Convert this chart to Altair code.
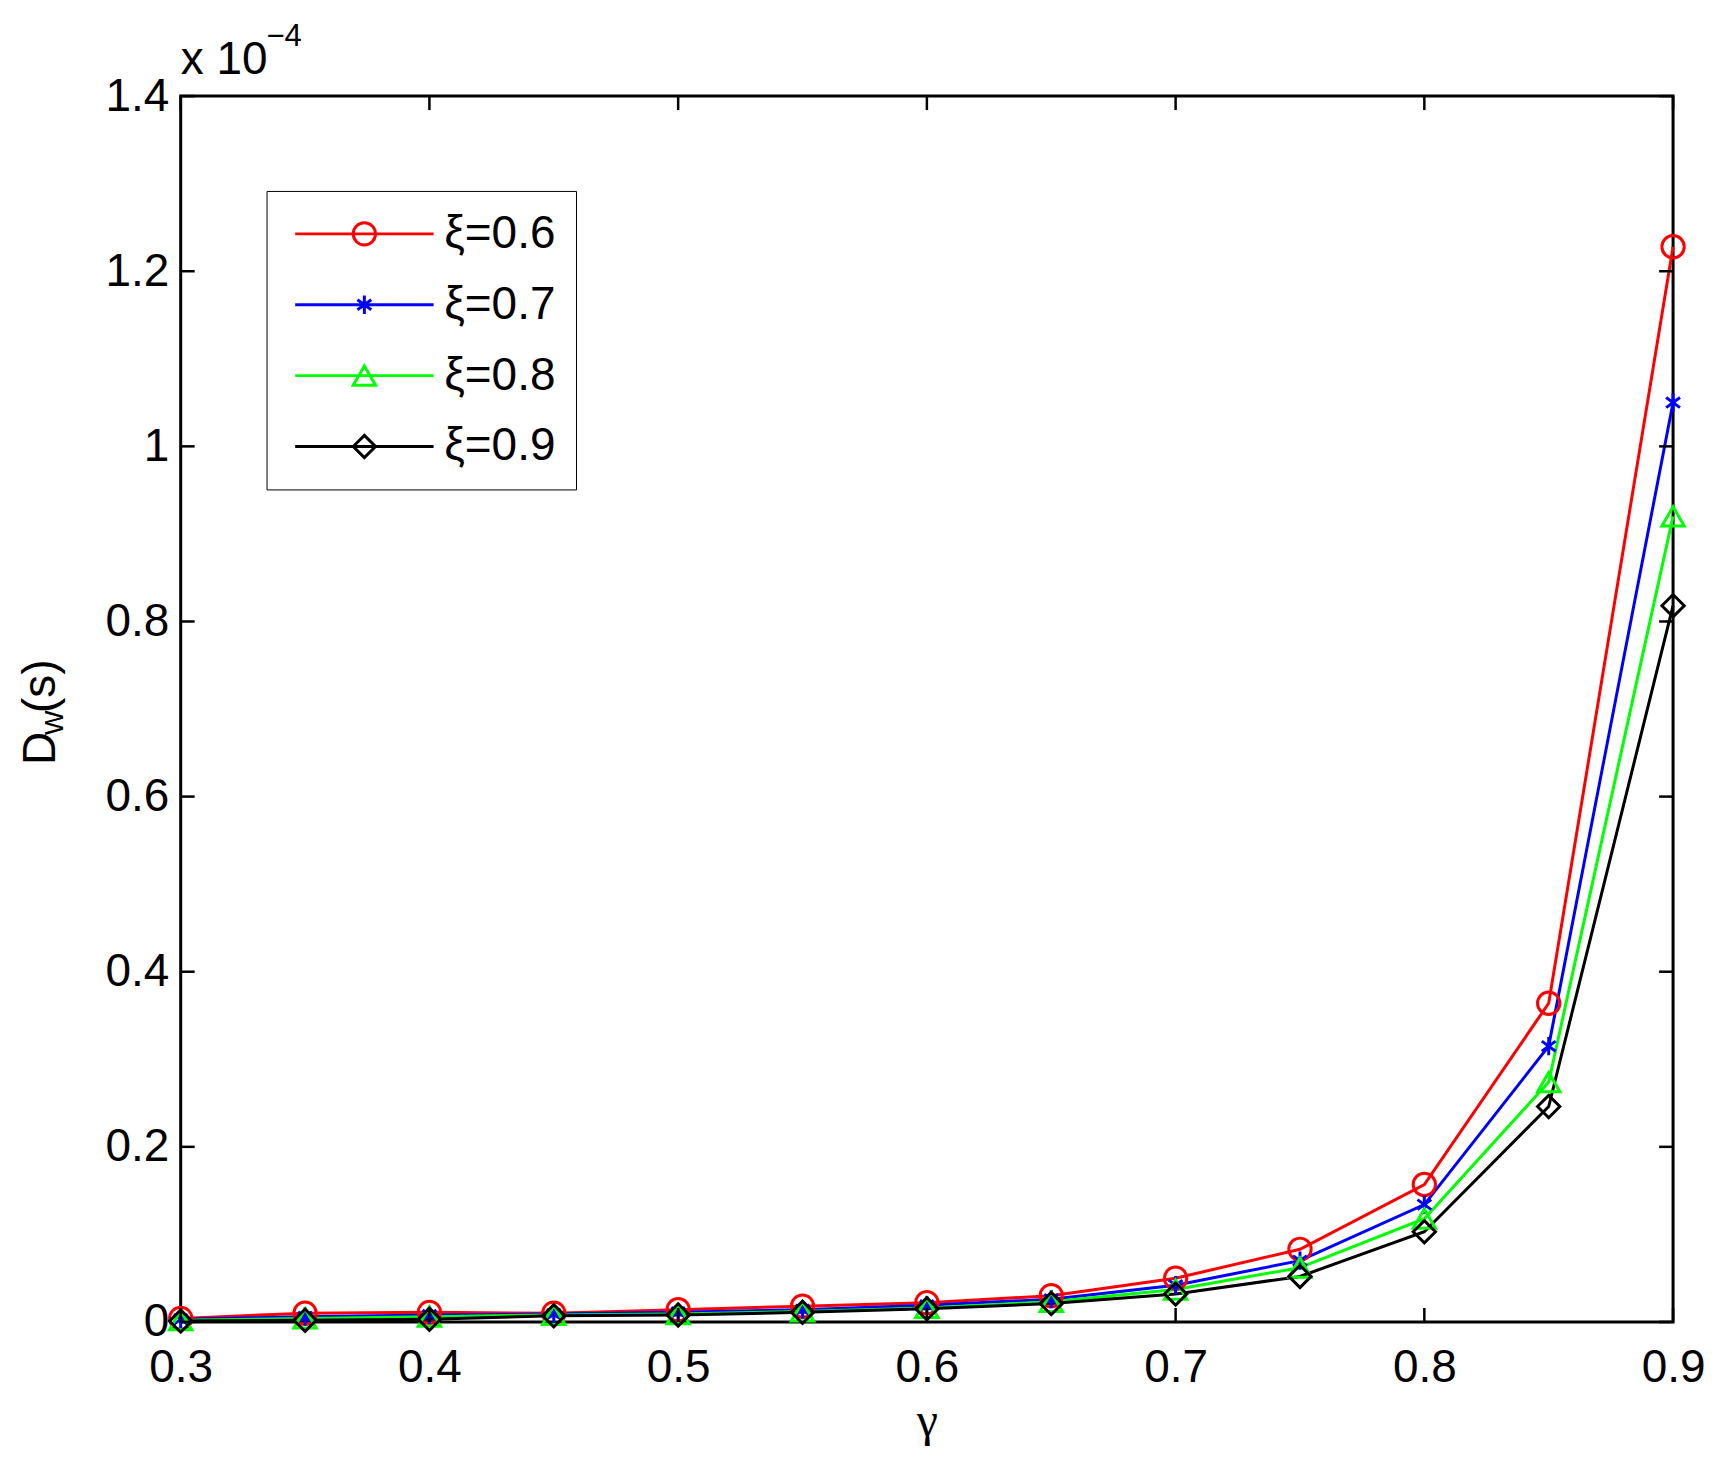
import altair as alt
import pandas as pd

# ---- data (values in units of 1e-4) ----
gamma = [0.30, 0.35, 0.40, 0.45, 0.50, 0.55, 0.60, 0.65, 0.70, 0.75, 0.80, 0.85, 0.90]
series_names = ["ξ=0.6", "ξ=0.7", "ξ=0.8", "ξ=0.9"]
d_xi06 = [0.004, 0.010, 0.011, 0.010, 0.014, 0.018, 0.022, 0.030, 0.050, 0.083, 0.157, 0.364, 1.228]
d_xi07 = [0.003, 0.006, 0.008, 0.009, 0.011, 0.014, 0.019, 0.026, 0.042, 0.070, 0.134, 0.315, 1.050]
d_xi08 = [0.002, 0.004, 0.006, 0.008, 0.009, 0.012, 0.016, 0.023, 0.037, 0.062, 0.118, 0.274, 0.920]
d_xi09 = [0.001, 0.002, 0.003, 0.007, 0.008, 0.011, 0.015, 0.021, 0.032, 0.052, 0.103, 0.246, 0.818]
x_ticks = [0.3, 0.4, 0.5, 0.6, 0.7, 0.8, 0.9]
y_ticks = [0.0, 0.2, 0.4, 0.6, 0.8, 1.0, 1.2, 1.4]
y_title_parts = ["D", "W", "(s)"]
exp_parts = ["x 10", "\u22124"]

colors = ["#ff0000", "#0000ff", "#00ff00", "#000000"]
asterisk = "M0,-0.82L0,0.82M-0.62,-0.45L0.62,0.45M-0.62,0.45L0.62,-0.45"
shapes = ["circle", asterisk, "triangle-up", "diamond"]

rows = []
for name, vals in zip(series_names, [d_xi06, d_xi07, d_xi08, d_xi09]):
    for g, v in zip(gamma, vals):
        rows.append({"gamma": g, "value": v, "series": name})
df = pd.DataFrame(rows)

W, H = 1495, 1228
FONT = "Liberation Sans"
LW = 3

xscale = alt.Scale(domain=[0.3, 0.9], nice=False, zero=False)
yscale = alt.Scale(domain=[0, 1.4], nice=False)

x_axis = alt.Axis(values=x_ticks, format=".1f", title="γ", grid=False, ticks=False,
                  domain=False, labelFlush=False, labelOverlap=False, labelPadding=24,
                  labelFont=FONT, labelFontSize=46, labelColor="black",
                  titleFont="Liberation Serif", titleFontSize=48, titleFontWeight="normal",
                  titleColor="black", titlePadding=7)
y_axis = alt.Axis(values=y_ticks, format=".1~f", title=None, grid=False, ticks=False,
                  domain=False, labelFlush=False, labelOverlap=False, labelPadding=12,
                  labelFont=FONT, labelFontSize=46, labelColor="black")

LEG_X, LEG_Y = 86, 95
common_leg = dict(orient="none", legendX=LEG_X, legendY=LEG_Y, title=None, padding=20,
                  labelFont=FONT, labelFontSize=46, rowPadding=25, symbolSize=500,
                  symbolStrokeWidth=LW, symbolOffset=55, labelOffset=57)

legend_lines = alt.Legend(symbolType="M-6.2,0H6.2", labelColor="rgba(0,0,0,0)",
                          strokeColor="black", **common_leg)
legend_marks = alt.Legend(labelColor="black", **common_leg)

base = alt.Chart(df)
lines = base.mark_line(strokeWidth=LW).encode(
    x=alt.X("gamma:Q", scale=xscale, axis=x_axis),
    y=alt.Y("value:Q", scale=yscale, axis=y_axis),
    color=alt.Color("series:N", scale=alt.Scale(range=colors), legend=legend_lines),
)
points = base.transform_calculate(label="datum.series").mark_point(
    filled=False, size=500, strokeWidth=LW, opacity=1
).encode(
    x=alt.X("gamma:Q", scale=xscale, axis=x_axis),
    y=alt.Y("value:Q", scale=yscale, axis=y_axis),
    stroke=alt.Stroke("label:N", scale=alt.Scale(domain=series_names, range=colors), legend=legend_marks),
    shape=alt.Shape("label:N", scale=alt.Scale(domain=series_names, range=shapes), legend=legend_marks),
)

xt = pd.DataFrame({"gamma": x_ticks})
yt = pd.DataFrame({"value": y_ticks})
TL = 14
rule_kw = dict(color="black", strokeWidth=2.5)
tick_bottom = alt.Chart(xt).mark_rule(**rule_kw).encode(
    x=alt.X("gamma:Q", scale=xscale, axis=x_axis), y=alt.value(H), y2=alt.value(H - TL))
tick_top = alt.Chart(xt).mark_rule(**rule_kw).encode(
    x=alt.X("gamma:Q", scale=xscale, axis=x_axis), y=alt.value(0), y2=alt.value(TL))
tick_left = alt.Chart(yt).mark_rule(**rule_kw).encode(
    y=alt.Y("value:Q", scale=yscale, axis=y_axis), x=alt.value(0), x2=alt.value(TL))
tick_right = alt.Chart(yt).mark_rule(**rule_kw).encode(
    y=alt.Y("value:Q", scale=yscale, axis=y_axis), x=alt.value(W - TL), x2=alt.value(W))

one = pd.DataFrame({"k": [0]})
txt_kw = dict(font=FONT, color="black", align="left", baseline="alphabetic")
yt_D = alt.Chart(one).mark_text(text=y_title_parts[0], angle=270, fontSize=46, **txt_kw).encode(
    x=alt.value(-126), y=alt.value(670))
yt_W = alt.Chart(one).mark_text(text=y_title_parts[1], angle=270, fontSize=26, **txt_kw).encode(
    x=alt.value(-118), y=alt.value(640))
yt_s = alt.Chart(one).mark_text(text=y_title_parts[2], angle=270, fontSize=46, **txt_kw).encode(
    x=alt.value(-126), y=alt.value(618))
ex_base = alt.Chart(one).mark_text(text=exp_parts[0], fontSize=46, **txt_kw).encode(
    x=alt.value(0), y=alt.value(-22))
ex_sup = alt.Chart(one).mark_text(text=exp_parts[1], fontSize=31, **txt_kw).encode(
    x=alt.value(86), y=alt.value(-50))

chart = alt.layer(
    lines, points, tick_bottom, tick_top, tick_left, tick_right,
    yt_D, yt_W, yt_s, ex_base, ex_sup
).properties(
    width=W, height=H,
    autosize=alt.AutoSizeParams(type="none"),
    padding={"left": 173, "top": 87, "right": 38, "bottom": 130},
    background="white",
).configure_view(stroke="black", strokeWidth=3)

chart.save("out.html", embed_options={"renderer": "svg", "actions": False})
